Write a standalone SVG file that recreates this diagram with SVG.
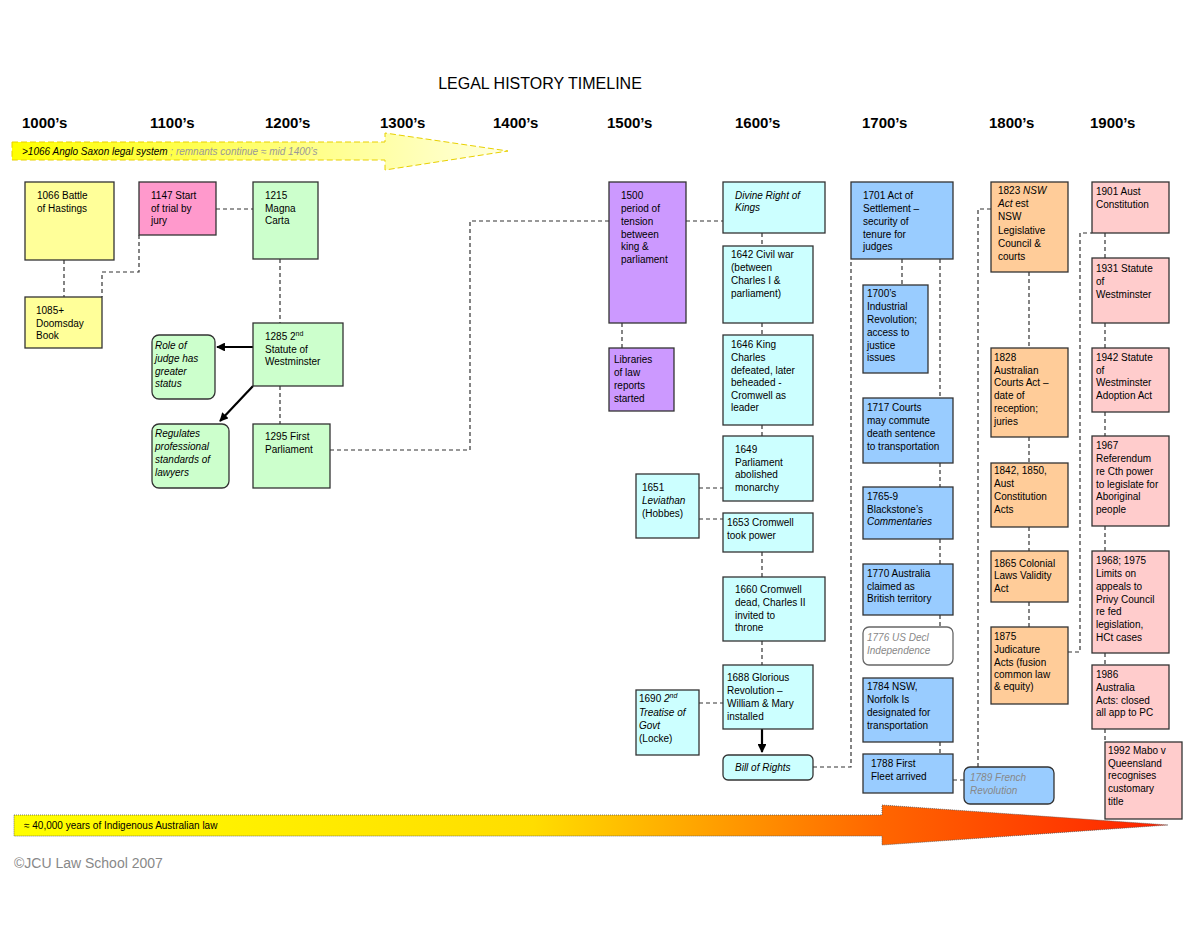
<svg xmlns="http://www.w3.org/2000/svg" width="1200" height="927" viewBox="0 0 1200 927">
<style>
text{font-family:"Liberation Sans",Arial,sans-serif;font-size:10px;fill:#000}
.n rect{stroke:#333;stroke-width:1.3}
.h{font-size:15px;font-weight:bold}
.i{font-style:italic}
.g{fill:#888;font-style:italic}
.c path{fill:none;stroke:#333;stroke-width:1.2;stroke-dasharray:4 3}
.c .s{stroke:#000;stroke-width:2.2;stroke-dasharray:none}
.y{fill:#FFFF99}.p{fill:#FF99CC}.gr{fill:#CCFFCC}.pu{fill:#CC99FF}.cy{fill:#CCFFFF}.bl{fill:#99CCFF}.or{fill:#FFCC99}.pk{fill:#FFCCCC}.wh{fill:#fff}
</style>
<defs>
<marker id="ah" viewBox="0 0 10 10" refX="9" refY="5" markerWidth="4" markerHeight="4" orient="auto"><path d="M0,0L10,5L0,10z" fill="#000"/></marker>
<linearGradient id="tg" x1="0" x2="1"><stop offset="0" stop-color="#FFFF00"/><stop offset="1" stop-color="#FFFFE0"/></linearGradient>
<linearGradient id="bg" x1="0" x2="1"><stop offset="0" stop-color="#FFFF00"/><stop offset="0.45" stop-color="#FFDD00"/><stop offset="0.75" stop-color="#FF6600"/><stop offset="1" stop-color="#FF2200"/></linearGradient>
</defs>
<rect width="1200" height="927" fill="#fff"/>
<text x="540" y="89" text-anchor="middle" style="font-size:16px">LEGAL HISTORY TIMELINE</text>
<g id="headers">
<text class="h" x="22" y="128">1000’s</text><text class="h" x="150" y="128">1100’s</text><text class="h" x="265" y="128">1200’s</text><text class="h" x="380" y="128">1300’s</text><text class="h" x="493" y="128">1400’s</text><text class="h" x="607" y="128">1500’s</text><text class="h" x="735" y="128">1600’s</text><text class="h" x="862" y="128">1700’s</text><text class="h" x="989" y="128">1800’s</text><text class="h" x="1090" y="128">1900’s</text>
</g>
<g id="top-arrow">
<path d="M12,142H385V133L508,151L385,170V160H12Z" fill="url(#tg)" stroke="#E8D000" stroke-dasharray="6 3"/>
<text x="22" y="155" class="i">&gt;1066 Anglo Saxon legal system<tspan fill="#999"> ; remnants continue ≈ mid 1400’s</tspan></text>
</g>
<g id="bottom-arrow">
<path d="M14,815H882V805L1168,825L882,845V836H14Z" fill="url(#bg)" stroke="#555" stroke-dasharray="1 1" stroke-width="0.8"/>
<text x="24" y="829">≈ 40,000 years of Indigenous Australian law</text>
</g>
<text x="14" y="868" style="font-size:14px;fill:#888">©JCU Law School 2007</text>
<g class="c" id="connectors">
<path d="M64,260V297"/><path d="M139,235V272H102V297"/><path d="M216,209H253"/><path d="M280,259V323"/><path d="M280,386V424"/>
<path d="M330,450H470V221H609"/><path d="M686,221H723"/><path d="M622,323V348"/>
<path d="M762,233V246"/><path d="M762,323V335"/><path d="M762,425V436"/><path d="M699,488H723"/><path d="M699,519H723"/>
<path d="M762,552V577"/><path d="M762,641V665"/><path d="M699,703H723"/>
<path d="M813,767H851V259"/><path d="M902,259V285"/><path d="M940,259V398"/><path d="M940,463V487"/><path d="M940,539V564"/><path d="M940,615V627"/><path d="M940,742V754"/>
<path d="M953,780H964"/><path d="M978,767V209H991"/>
<path d="M1029,272V348"/><path d="M1029,437V463"/><path d="M1029,527V551"/><path d="M1029,602V627"/>
<path d="M1068,652H1080V233H1092"/>
<path d="M1105,233V258"/><path d="M1105,323V348"/><path d="M1105,412V436"/><path d="M1105,526V551"/><path d="M1105,653V665"/><path d="M1105,729V742"/>
<path class="s" d="M253,347H217" marker-end="url(#ah)"/><path class="s" d="M253,386L220,421" marker-end="url(#ah)"/><path class="s" d="M762,729V752" marker-end="url(#ah)"/>
</g>
<g class="n" id="n1066"><rect class="y" x="25" y="182" width="89" height="78"/><text x="37" y="199">1066 Battle</text><text x="37" y="212">of Hastings</text></g>
<g class="n" id="n1085"><rect class="y" x="25" y="297" width="77" height="51"/><text x="36" y="314">1085+</text><text x="36" y="327">Doomsday</text><text x="36" y="339">Book</text></g>
<g class="n" id="n1147"><rect class="p" x="139" y="182" width="77" height="53"/><text x="151" y="199">1147 Start</text><text x="151" y="212">of trial by</text><text x="151" y="224">jury</text></g>
<g class="n" id="n1215"><rect class="gr" x="253" y="182" width="65" height="77"/><text x="265" y="199">1215</text><text x="265" y="212">Magna</text><text x="265" y="224">Carta</text></g>
<g class="n" id="n1285"><rect class="gr" x="253" y="323" width="90" height="63"/><text x="265" y="340">1285 2<tspan font-size="7" dy="-4">nd</tspan></text><text x="265" y="353">Statute of</text><text x="265" y="365">Westminster</text></g>
<g class="n" id="nrole"><rect class="gr" x="152" y="335" width="63" height="64" rx="7"/><text class="i" x="155" y="349">Role of</text><text class="i" x="155" y="362">judge has</text><text class="i" x="155" y="375">greater</text><text class="i" x="155" y="387">status</text></g>
<g class="n" id="nreg"><rect class="gr" x="152" y="424" width="77" height="64" rx="7"/><text class="i" x="155" y="437">Regulates</text><text class="i" x="155" y="450">professional</text><text class="i" x="155" y="463">standards of</text><text class="i" x="155" y="476">lawyers</text></g>
<g class="n" id="n1295"><rect class="gr" x="253" y="424" width="77" height="64"/><text x="265" y="440">1295 First</text><text x="265" y="453">Parliament</text></g>
<g class="n" id="n1500"><rect class="pu" x="609" y="182" width="77" height="141"/><text x="621" y="199">1500</text><text x="621" y="212">period of</text><text x="621" y="225">tension</text><text x="621" y="238">between</text><text x="621" y="250">king &amp;</text><text x="621" y="263">parliament</text></g>
<g class="n" id="nlib"><rect class="pu" x="609" y="348" width="65" height="63"/><text x="614" y="363">Libraries</text><text x="614" y="376">of law</text><text x="614" y="389">reports</text><text x="614" y="402">started</text></g>
<g class="n" id="ndiv"><rect class="cy" x="723" y="182" width="102" height="51"/><text class="i" x="735" y="199">Divine Right of</text><text class="i" x="735" y="211">Kings</text></g>
<g class="n" id="n1642"><rect class="cy" x="723" y="246" width="90" height="77"/><text x="731" y="258">1642 Civil war</text><text x="731" y="271">(between</text><text x="731" y="284">Charles I &amp;</text><text x="731" y="297">parliament)</text></g>
<g class="n" id="n1646"><rect class="cy" x="723" y="335" width="90" height="90"/><text x="731" y="348">1646 King</text><text x="731" y="361">Charles</text><text x="731" y="374">defeated, later</text><text x="731" y="386">beheaded -</text><text x="731" y="399">Cromwell as</text><text x="731" y="411">leader</text></g>
<g class="n" id="n1649"><rect class="cy" x="723" y="436" width="90" height="65"/><text x="735" y="453">1649</text><text x="735" y="466">Parliament</text><text x="735" y="478">abolished</text><text x="735" y="491">monarchy</text></g>
<g class="n" id="n1651"><rect class="cy" x="636" y="474" width="63" height="64"/><text x="642" y="491">1651</text><text class="i" x="642" y="504">Leviathan</text><text x="642" y="517">(Hobbes)</text></g>
<g class="n" id="n1653"><rect class="cy" x="723" y="513" width="90" height="39"/><text x="727" y="526">1653 Cromwell</text><text x="727" y="539">took power</text></g>
<g class="n" id="n1660"><rect class="cy" x="723" y="577" width="102" height="64"/><text x="735" y="593">1660 Cromwell</text><text x="735" y="606">dead, Charles II</text><text x="735" y="619">invited to</text><text x="735" y="631">throne</text></g>
<g class="n" id="n1688"><rect class="cy" x="723" y="665" width="90" height="64"/><text x="727" y="681">1688 Glorious</text><text x="727" y="694">Revolution –</text><text x="727" y="707">William &amp; Mary</text><text x="727" y="720">installed</text></g>
<g class="n" id="n1690"><rect class="cy" x="636" y="690" width="63" height="65"/><text x="639" y="702">1690 <tspan class="i">2<tspan font-size="7" dy="-4">nd</tspan></tspan></text><text class="i" x="639" y="716">Treatise of</text><text class="i" x="639" y="729">Govt</text><text x="639" y="742">(Locke)</text></g>
<g class="n" id="nbill"><rect class="cy" x="723" y="755" width="90" height="25" rx="5"/><text class="i" x="735" y="771">Bill of Rights</text></g>
<g class="n" id="n1701"><rect class="bl" x="851" y="182" width="102" height="77"/><text x="863" y="199">1701 Act of</text><text x="863" y="212">Settlement –</text><text x="863" y="225">security of</text><text x="863" y="238">tenure for</text><text x="863" y="250">judges</text></g>
<g class="n" id="n1700"><rect class="bl" x="863" y="285" width="65" height="88"/><text x="867" y="297">1700’s</text><text x="867" y="310">Industrial</text><text x="867" y="323">Revolution;</text><text x="867" y="336">access to</text><text x="867" y="349">justice</text><text x="867" y="361">issues</text></g>
<g class="n" id="n1717"><rect class="bl" x="863" y="398" width="90" height="65"/><text x="867" y="411">1717 Courts</text><text x="867" y="424">may commute</text><text x="867" y="437">death sentence</text><text x="867" y="450">to transportation</text></g>
<g class="n" id="n1765"><rect class="bl" x="863" y="487" width="90" height="52"/><text x="867" y="500">1765-9</text><text x="867" y="513">Blackstone’s</text><text class="i" x="867" y="525">Commentaries</text></g>
<g class="n" id="n1770"><rect class="bl" x="863" y="564" width="90" height="51"/><text x="867" y="577">1770 Australia</text><text x="867" y="590">claimed as</text><text x="867" y="602">British territory</text></g>
<g class="n" id="n1776"><rect class="wh" x="863" y="627" width="90" height="38" rx="6" style="stroke:#666"/><text class="g" x="867" y="641">1776 US Decl</text><text class="g" x="867" y="654">Independence</text></g>
<g class="n" id="n1784"><rect class="bl" x="863" y="678" width="90" height="64"/><text x="867" y="690">1784 NSW,</text><text x="867" y="703">Norfolk Is</text><text x="867" y="716">designated for</text><text x="867" y="729">transportation</text></g>
<g class="n" id="n1788"><rect class="bl" x="863" y="754" width="90" height="39"/><text x="871" y="767">1788 First</text><text x="871" y="780">Fleet arrived</text></g>
<g class="n" id="n1789"><rect class="bl" x="964" y="767" width="90" height="37" rx="6"/><text class="g" x="970" y="781">1789 French</text><text class="g" x="970" y="794">Revolution</text></g>
<g class="n" id="n1823"><rect class="or" x="991" y="182" width="77" height="90"/><text x="998" y="194">1823 <tspan class="i">NSW</tspan></text><text x="998" y="207"><tspan class="i">Act</tspan> est</text><text x="998" y="220">NSW</text><text x="998" y="234">Legislative</text><text x="998" y="247">Council &amp;</text><text x="998" y="260">courts</text></g>
<g class="n" id="n1828"><rect class="or" x="991" y="348" width="77" height="89"/><text x="994" y="361">1828</text><text x="994" y="374">Australian</text><text x="994" y="386">Courts Act –</text><text x="994" y="399">date of</text><text x="994" y="412">reception;</text><text x="994" y="425">juries</text></g>
<g class="n" id="n1842"><rect class="or" x="991" y="463" width="77" height="64"/><text x="994" y="474">1842, 1850,</text><text x="994" y="487">Aust</text><text x="994" y="500">Constitution</text><text x="994" y="513">Acts</text></g>
<g class="n" id="n1865"><rect class="or" x="991" y="551" width="77" height="51"/><text x="994" y="567">1865 Colonial</text><text x="994" y="579">Laws Validity</text><text x="994" y="592">Act</text></g>
<g class="n" id="n1875"><rect class="or" x="991" y="627" width="77" height="77"/><text x="994" y="640">1875</text><text x="994" y="653">Judicature</text><text x="994" y="666">Acts (fusion</text><text x="994" y="678">common law</text><text x="994" y="690">&amp; equity)</text></g>
<g class="n" id="n1901"><rect class="pk" x="1092" y="182" width="77" height="51"/><text x="1096" y="195">1901 Aust</text><text x="1096" y="208">Constitution</text></g>
<g class="n" id="n1931"><rect class="pk" x="1092" y="258" width="77" height="65"/><text x="1096" y="272">1931 Statute</text><text x="1096" y="285">of</text><text x="1096" y="298">Westminster</text></g>
<g class="n" id="n1942"><rect class="pk" x="1092" y="348" width="77" height="64"/><text x="1096" y="361">1942 Statute</text><text x="1096" y="374">of</text><text x="1096" y="386">Westminster</text><text x="1096" y="399">Adoption Act</text></g>
<g class="n" id="n1967"><rect class="pk" x="1092" y="436" width="77" height="90"/><text x="1096" y="449">1967</text><text x="1096" y="462">Referendum</text><text x="1096" y="475">re Cth power</text><text x="1096" y="488">to legislate for</text><text x="1096" y="500">Aboriginal</text><text x="1096" y="513">people</text></g>
<g class="n" id="n1968"><rect class="pk" x="1092" y="551" width="77" height="102"/><text x="1096" y="564">1968; 1975</text><text x="1096" y="577">Limits on</text><text x="1096" y="590">appeals to</text><text x="1096" y="603">Privy Council</text><text x="1096" y="615">re fed</text><text x="1096" y="628">legislation,</text><text x="1096" y="641">HCt cases</text></g>
<g class="n" id="n1986"><rect class="pk" x="1092" y="665" width="77" height="64"/><text x="1096" y="678">1986</text><text x="1096" y="691">Australia</text><text x="1096" y="704">Acts: closed</text><text x="1096" y="716">all app to PC</text></g>
<g class="n" id="n1992"><rect class="pk" x="1105" y="742" width="77" height="77"/><text x="1108" y="754">1992 Mabo v</text><text x="1108" y="767">Queensland</text><text x="1108" y="779">recognises</text><text x="1108" y="792">customary</text><text x="1108" y="805">title</text></g>
</svg>
